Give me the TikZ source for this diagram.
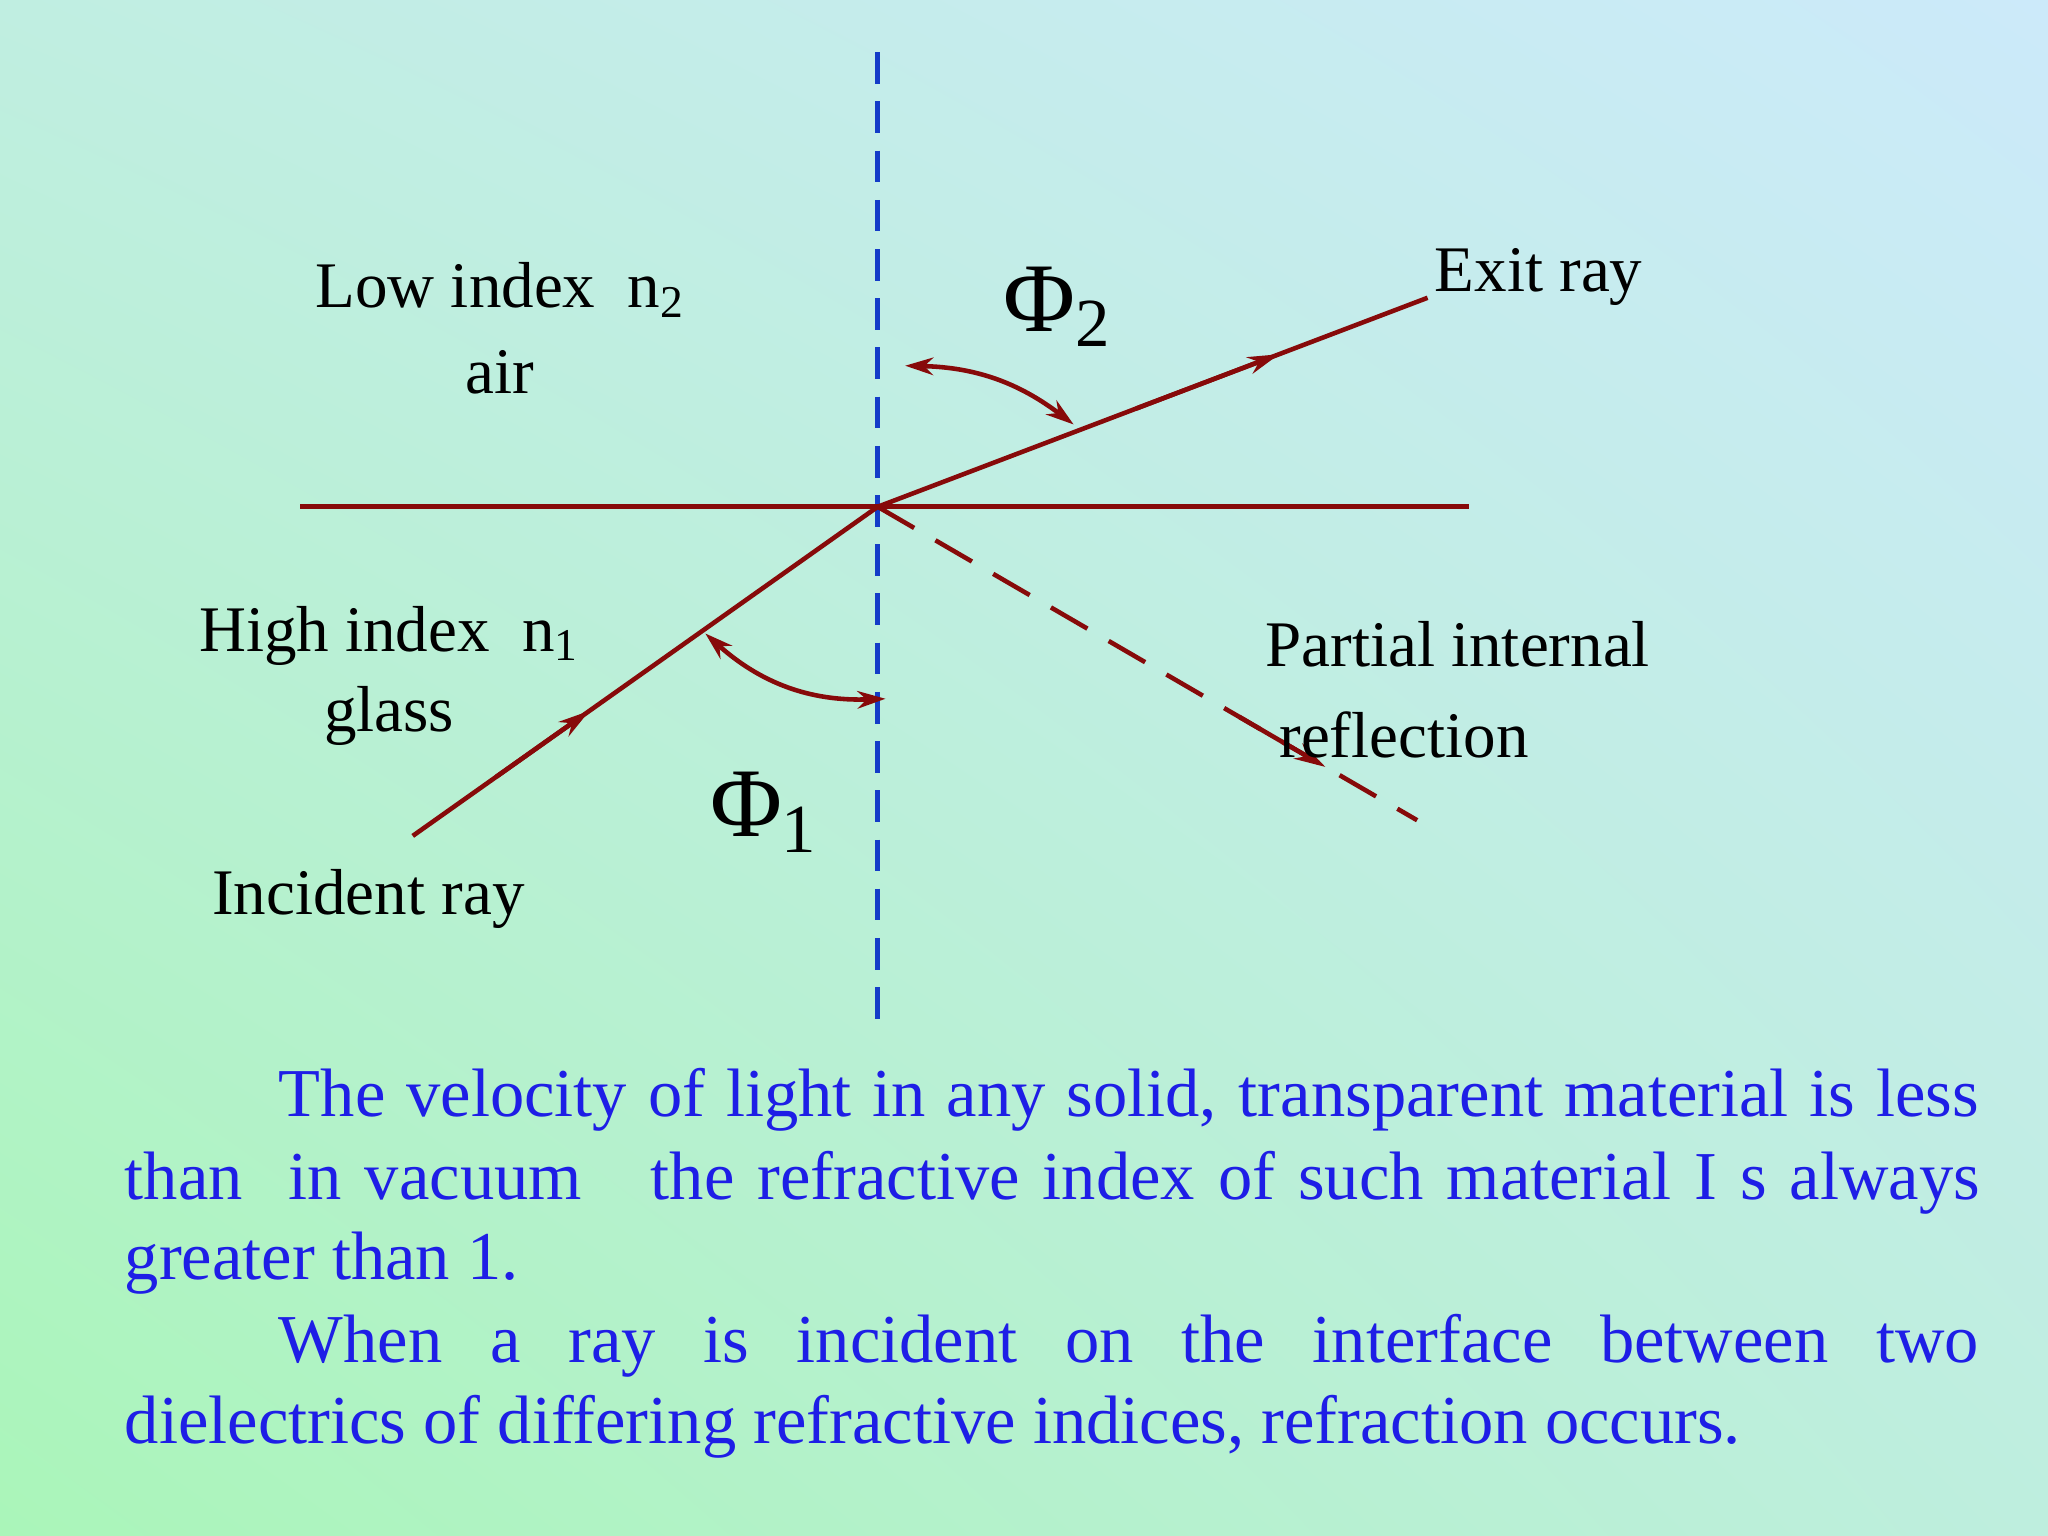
\documentclass[tikz,border=0pt]{standalone}
\usepackage{fontspec}
\setmainfont{Liberation Serif}
\usetikzlibrary{arrows.meta,calc,shadings}
\definecolor{ray}{RGB}{135,10,10}
\definecolor{nblue}{RGB}{20,60,200}
\definecolor{ptext}{RGB}{30,30,230}
\definecolor{cul}{RGB}{192,238,225}
\definecolor{cur}{RGB}{204,234,250}
\definecolor{cll}{RGB}{170,245,185}
\definecolor{clr}{RGB}{190,238,222}
\begin{document}
\begin{tikzpicture}[x=0.01306cm,y=-0.01306cm,
  rayline/.style={ray,line width=1.3pt},
  mid/.style={-{Stealth[length=9pt,width=5pt]}},
  lbl/.style={font=\fontsize{18.5}{22}\selectfont,align=center,inner sep=0pt},
  ptx/.style={anchor=base west,inner sep=0pt,text=ptext,font=\fontsize{19.5}{23.6}\selectfont}]
\useasboundingbox (0,0) rectangle (1568,1176);
\shade[upper left=cul,upper right=cur,lower left=cll,lower right=clr] (0,0) rectangle (1568,1176);
\coordinate (O) at (672,388);
\coordinate (Ntop) at (672,40); \coordinate (Nbot) at (672,785);
\coordinate (Hl) at (230,388); \coordinate (Hr) at (1125,388);
\coordinate (Ex) at (1093,228); \coordinate (In) at (316,640); \coordinate (Rf) at (1085,628);
\draw[nblue,line width=1.5pt,dash pattern=on 9pt off 5pt] (Ntop) -- (Nbot);
\draw[rayline] (Hl) -- (Hr);
\draw[rayline] (In) -- (O) -- (Ex);
\draw[rayline,dash pattern=on 12pt off 7pt] (O) -- (Rf);
\draw[rayline,mid] ($(In)!0.18!(O)$) -- ($(In)!0.38!(O)$);
\draw[rayline,mid] ($(O)!0.47!(Ex)$) -- ($(O)!0.73!(Ex)$);
\draw[rayline,mid] ($(O)!0.67!(Rf)$) -- ($(O)!0.83!(Rf)$);
\coordinate (a1) at (693,280); \coordinate (a2) at (822,325);
\coordinate (b1) at (540,485); \coordinate (b2) at (678,535);
\draw[rayline,{Stealth[length=8pt,width=5pt]}-{Stealth[length=8pt,width=5pt]}] (a1) to[bend left=18] (a2);
\draw[rayline,{Stealth[length=8pt,width=5pt]}-{Stealth[length=8pt,width=5pt]}] (b1) to[bend right=22] (b2);
\node[lbl] (low) at (383,222) {Low index\ \ n\textsubscript{2}};
\node[lbl] (air) at (383,285) {air};
\node[lbl,font=\fontsize{28}{30}\selectfont] (p2) at (810,235) {Φ\textsubscript{2}};
\node[lbl] (exit) at (1178,212) {Exit ray};
\node[lbl] (high) at (298,487) {High index\ \ n\textsubscript{1}};
\node[lbl] (glass) at (298,548) {glass};
\node[lbl,font=\fontsize{28}{30}\selectfont] (p1) at (585,622) {Φ\textsubscript{1}};
\node[lbl] (inc) at (282,688) {Incident ray};
\node[lbl,align=left] (pir) at (1116,528) {Partial internal\\[4pt]\hspace*{4pt}reflection};
\node[ptx] (l1) at (213,855) {\makebox[17.0cm][s]{The velocity of light in any solid, transparent material is less}};
\node[ptx] (l2) at (95,918) {\makebox[18.55cm][s]{than\ \ in vacuum\ \ \ the refractive index of such material I s always}};
\node[ptx] (l3) at (95,980) {greater than 1.};
\node[ptx] (l4) at (213,1043) {\makebox[17.0cm][s]{When a ray is incident on the interface between two}};
\node[ptx] (l5) at (95,1105) {dielectrics of differing refractive indices, refraction occurs.};
\end{tikzpicture}
\end{document}
